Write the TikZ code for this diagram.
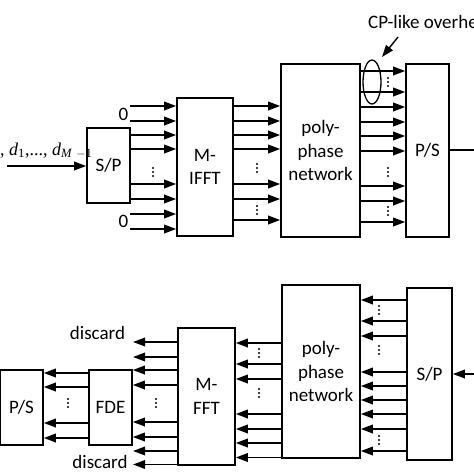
\documentclass[tikz,border=0pt]{standalone}
\usepackage{fontspec}
\setmainfont{Carlito}
\newfontfamily\tms{Liberation Serif}
\usetikzlibrary{arrows.meta,shapes.geometric}
\tikzset{
  blk/.style={draw, line width=1.6pt, inner sep=0pt, align=center,
    font=\fontsize{19}{23.5}\selectfont},
  arr/.style={line width=1.8pt, -{Triangle[length=12pt,width=8.5pt]}},
  ln/.style={line width=1.6pt},
  lbl/.style={inner sep=0pt, font=\fontsize{19}{23}\selectfont},
  vd/.style={inner sep=0pt, minimum width=4pt, minimum height=13pt,
    path picture={
      \fill (path picture bounding box.center) circle (1.1pt);
      \fill ([yshift=4pt]path picture bounding box.center) circle (1.1pt);
      \fill ([yshift=-4pt]path picture bounding box.center) circle (1.1pt);
    }},
}
\begin{document}
\begin{tikzpicture}[x=1pt,y=-1pt]
\useasboundingbox (0,0) rectangle (474,474);
% ---------- transmitter (top) ----------
\node[blk, minimum width=43pt, minimum height=75pt] (sp1) at (108.5,165.5) {S/P};
\node[blk, minimum width=56pt, minimum height=138pt] (ifft) at (205,167) {M-\\IFFT};
\node[blk, minimum width=79pt, minimum height=173pt] (pp1) at (320.5,150.5) {poly-\\phase\\network};
\node[blk, minimum width=43pt, minimum height=173pt] (ps1) at (427.5,150.5) {P/S};
% input
\coordinate (in1) at (7,166);
\draw[arr] (in1) -- (sp1.west |- in1);
\node[inner sep=0pt, anchor=base west, font=\tms\fontsize{18}{20}\selectfont] (dlab) at (0,155)
  {, \textit{d}\textsubscript{1},..., \textit{d}\textsubscript{\textit{M}\,\,$-$1}};
% zero inputs
\foreach \y [count=\i] in {106,121,214,229}{
  \coordinate (z\i) at (130,\y);
  \draw[arr] (z\i) -- (ifft.west |- z\i);
}
\node[lbl] (zero1) at (123.5,114) {0};
\node[lbl] (zero2) at (123.5,221) {0};
% S/P -> IFFT
\foreach \y in {135,149,184,199}{
  \draw[arr] (sp1.east |- 0,\y) -- (ifft.west |- 0,\y);
}
\node[vd] (d1) at (153,172) {};
% IFFT -> polyphase
\foreach \y in {106,121,135,149,184,199,220}{
  \draw[arr] (ifft.east |- 0,\y) -- (pp1.west |- 0,\y);
}
\node[vd] (d2) at (257,168) {};
\node[vd] (d3) at (257,210) {};
% polyphase -> P/S
\foreach \y in {71,92,107,122,136,151,186,201,222}{
  \draw[arr] (pp1.east |- 0,\y) -- (ps1.west |- 0,\y);
}
\node[vd] (d4) at (388,82) {};
\node[vd] (d5) at (388,172) {};
\node[vd] (d6) at (388,211) {};
% output
\coordinate (out1) at (474,150);
\draw[ln] (ps1.east |- out1) -- (out1);
% CP-like overhead
\node[draw, line width=1.3pt, ellipse, minimum width=18pt, minimum height=44pt, inner sep=0pt] (cp) at (372,82) {};
\node[lbl, anchor=west] (cplab) at (368,22) {CP-like overhead};
\coordinate (cpa) at (398,37);
\coordinate (cpb) at (382,57);
\draw[arr, line width=1.4pt] (cpa) -- (cpb);
% ---------- receiver (bottom) ----------
\node[blk, minimum width=43pt, minimum height=75pt] (ps2) at (21.5,407.5) {P/S};
\node[blk, minimum width=43pt, minimum height=75pt] (fde) at (110.5,407.5) {FDE};
\node[blk, minimum width=57pt, minimum height=137pt] (fft) at (206.5,396.5) {M-\\FFT};
\node[blk, minimum width=78pt, minimum height=173pt] (pp2) at (321,371.5) {poly-\\phase\\network};
\node[blk, minimum width=45pt, minimum height=172pt] (sp2) at (429.5,374) {S/P};
% input
\coordinate (in2) at (474,374);
\draw[arr] (in2) -- (sp2.east |- in2);
% S/P -> polyphase
\foreach \y in {300,321,336,372,386,400,414,429,451}{
  \draw[arr] (sp2.west |- 0,\y) -- (pp2.east |- 0,\y);
}
\node[vd] (e1) at (379,310) {};
\node[vd] (e2) at (379,350) {};
\node[vd] (e3) at (379,440) {};
% polyphase -> FFT
\foreach \y in {343,364,379,414,429,443,457.5}{
  \draw[arr] (pp2.west |- 0,\y) -- (fft.east |- 0,\y);
}
\node[vd] (e4) at (259,353) {};
\node[vd] (e5) at (259,393) {};
% FFT -> FDE
\foreach \y in {370,385,422,437}{
  \draw[arr] (fft.west |- 0,\y) -- (fde.east |- 0,\y);
}
\node[vd] (e6) at (156,403) {};
% discard
\foreach \y [count=\i] in {342,357,451,464.5}{
  \coordinate (dc\i) at (133,\y);
  \draw[arr] (fft.west |- dc\i) -- (dc\i);
}
\node[lbl] (disc1) at (97.5,333) {discard};
\node[lbl] (disc2) at (100,462) {discard};
% FDE -> P/S
\foreach \y in {373,387,423,438}{
  \draw[arr] (fde.west |- 0,\y) -- (ps2.east |- 0,\y);
}
\node[vd] (e7) at (68,403) {};
\end{tikzpicture}
\end{document}
